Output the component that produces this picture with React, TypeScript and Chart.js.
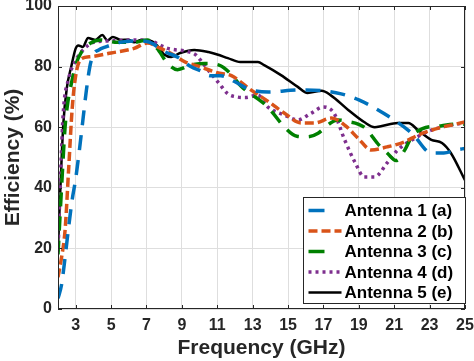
import React, { useEffect, useRef } from "react";
import { Chart, registerables } from "chart.js";

Chart.register(...registerables);

// ---- Data ----
const labels = ["Antenna 1 (a)", "Antenna 2 (b)", "Antenna 3 (c)", "Antenna 4 (d)", "Antenna 5 (e)"];
const xTicks = [3, 5, 7, 9, 11, 13, 15, 17, 19, 21, 23, 25];
const yTicks = [0, 20, 40, 60, 80, 100];

const ant1Freq = [2.0, 2.2, 2.4, 2.6, 2.8, 3.0, 3.2, 3.4, 3.6, 3.8, 4.0, 4.3, 4.7, 5.5, 6.5, 7.2, 8.0, 8.8, 9.5, 10.1, 10.6, 11.2, 12.0, 12.8, 13.9, 15.6, 17.0, 18.0, 19.0, 20.4, 22.0, 23.1, 23.8, 24.5, 25.0];
const ant1Eff = [3.5, 8, 17, 27, 36, 43, 52, 62, 72, 80, 84, 85.5, 86.5, 88, 88.5, 88, 85, 83, 80, 78.5, 77, 77, 75, 72.5, 71.6, 72.3, 72, 71, 69, 64.6, 58, 51.5, 51.5, 52.5, 53];

const ant2Freq = [2.0, 2.2, 2.4, 2.6, 2.8, 3.0, 3.3, 3.85, 5.0, 6.3, 7.05, 7.8, 8.5, 9.2, 10.0, 11.0, 11.8, 12.9, 14.0, 14.8, 15.75, 16.5, 17.45, 18.2, 18.95, 19.7, 20.6, 21.55, 22.35, 23.5, 25.0];
const ant2Eff = [10.5, 17, 26, 46, 66, 77, 82.5, 83.3, 84.5, 86, 87.8, 86, 84, 81.5, 80, 78, 77, 72.3, 68, 64.6, 61.4, 61.4, 63, 60.7, 56.4, 52.5, 53.5, 55.1, 57.4, 59.7, 61.7];

const ant3Freq = [2.0, 2.2, 2.4, 2.55, 2.8, 3.0, 3.3, 3.85, 4.4, 5.35, 6.3, 7.05, 7.6, 8.2, 8.75, 9.5, 10.3, 11.1, 11.7, 12.35, 13.6, 14.1, 14.8, 15.5, 16.1, 16.7, 17.3, 17.8, 18.3, 19.3, 20.15, 20.6, 21.1, 21.6, 22.0, 22.6, 23.7, 24.6, 25.0];
const ant3Eff = [18, 40, 60, 68, 75.6, 80.5, 84.5, 87.8, 88.8, 88, 88, 88.8, 86, 81, 79, 80.5, 81, 80.5, 78, 73.5, 68, 65, 60, 57, 56.8, 58, 61, 62.4, 62, 60, 54, 51.5, 49, 52.5, 57, 59.5, 60.5, 61, 61];

const ant4Freq = [2.0, 2.15, 2.3, 2.6, 3.0, 3.5, 4.0, 5.0, 6.5, 7.2, 8.2, 9.3, 9.8, 10.2, 10.6, 11.1, 11.6, 12.1, 12.6, 13.3, 13.85, 14.8, 15.55, 16.3, 17.0, 17.6, 18.2, 18.8, 19.3, 19.9, 20.6, 21.2, 22.0, 23.1, 24.2, 25.0];
const ant4Eff = [19, 45, 65, 76, 82, 86, 88, 88.5, 88.8, 88.5, 86, 85, 83.8, 81, 78, 74.5, 71, 70, 69.8, 70.6, 66.7, 64, 62.4, 64.6, 66.7, 64.6, 55.8, 48.2, 43.6, 43.6, 48.2, 52.5, 55.8, 59, 60.7, 61.4];

const ant5Freq = [2.0, 2.15, 2.3, 2.5, 2.75, 3.0, 3.15, 3.4, 3.7, 4.1, 4.5, 4.8, 5.1, 5.55, 6.0, 6.3, 6.7, 7.25, 7.6, 8.0, 8.4, 8.9, 9.7, 10.5, 11.0, 11.6, 12.3, 13.3, 13.65, 14.6, 15.55, 16.1, 16.9, 17.4, 18.4, 19.3, 19.9, 20.3, 21.2, 21.8, 22.35, 23.1, 23.7, 24.2, 25.0];
const ant5Eff = [20, 42, 61, 73, 80, 86, 87, 86.5, 89.4, 88.8, 90.4, 88.6, 89.8, 88.8, 88.9, 88, 88.8, 88.5, 87, 84, 83.2, 84.5, 85.5, 84.8, 84, 82.8, 81.5, 81.5, 80.5, 77.2, 73.3, 71.3, 72, 70.6, 65.7, 61.7, 60, 60.4, 61.4, 61.4, 59, 55.8, 54.8, 51.5, 42.5];

const toPts = (fs: number[], es: number[]) => fs.map((f, i) => ({ x: f, y: es[i] }));

const FONT = "'Liberation Sans', Arial, sans-serif";
const AXIS_COLOR = "#262626";

const styles = [
  { color: "#0072BD", dash: [15, 10], width: 3.5, legendDash: [16, 30] },
  { color: "#D95319", dash: [9, 4], width: 3.5, legendDash: [9, 4] },
  { color: "#008000", dash: [14, 10], width: 3.5, legendDash: [16, 30] },
  { color: "#7E2F8E", dash: [3, 4], width: 3.5, legendDash: [3, 4] },
  { color: "#000000", dash: [] as number[], width: 2.5, legendDash: [] as number[] },
];

const framePlugin = {
  id: "frame",
  afterDatasetsDraw(chart: any) {
    const { ctx, chartArea: ca, scales } = chart;
    ctx.save();
    // box
    ctx.strokeStyle = AXIS_COLOR;
    ctx.lineWidth = 1;
    ctx.setLineDash([]);
    ctx.strokeRect(ca.left + 0.5, ca.top + 0.5, ca.right - ca.left - 1, ca.bottom - ca.top - 1);
    // inward ticks
    const tl = 4;
    ctx.beginPath();
    xTicks.forEach((v) => {
      const px = Math.round(scales.x.getPixelForValue(v)) + 0.5;
      ctx.moveTo(px, ca.bottom);
      ctx.lineTo(px, ca.bottom - tl);
      ctx.moveTo(px, ca.top);
      ctx.lineTo(px, ca.top + tl);
    });
    yTicks.forEach((v) => {
      const py = Math.round(scales.y.getPixelForValue(v)) + 0.5;
      ctx.moveTo(ca.left, py);
      ctx.lineTo(ca.left + tl, py);
      ctx.moveTo(ca.right, py);
      ctx.lineTo(ca.right - tl, py);
    });
    ctx.stroke();

    // legend
    const w = 162;
    const h = 106;
    const lx = Math.round(ca.right) - w + 0.5;
    const ly = Math.round(ca.bottom) - 112 + 0.5;
    ctx.fillStyle = "#ffffff";
    ctx.fillRect(lx, ly, w, h);
    ctx.strokeStyle = AXIS_COLOR;
    ctx.lineWidth = 1;
    ctx.strokeRect(lx, ly, w, h);
    ctx.font = `bold 17px ${FONT}`;
    ctx.textBaseline = "middle";
    ctx.textAlign = "left";
    labels.forEach((lab, i) => {
      const y = ly + 13 + i * 20.5;
      const st = styles[i];
      ctx.beginPath();
      ctx.strokeStyle = st.color;
      ctx.lineWidth = st.width;
      ctx.setLineDash(st.legendDash);
      ctx.moveTo(lx + 5, y);
      ctx.lineTo(lx + 38, y);
      ctx.stroke();
      ctx.setLineDash([]);
      ctx.fillStyle = "#000000";
      ctx.fillText(lab, lx + 41, y + 1);
    });
    ctx.restore();
  },
};

const zeroPad = (s: any) => {
  s.paddingTop = 0;
  s.paddingBottom = 0;
  s.paddingLeft = 0;
  s.paddingRight = 0;
};

export default function App() {
  const canvasRef = useRef<HTMLCanvasElement | null>(null);

  useEffect(() => {
    document.body.style.margin = "0";
    const canvas = canvasRef.current;
    if (!canvas) return;
    const series = [
      toPts(ant1Freq, ant1Eff),
      toPts(ant2Freq, ant2Eff),
      toPts(ant3Freq, ant3Eff),
      toPts(ant4Freq, ant4Eff),
      toPts(ant5Freq, ant5Eff),
    ];
    const chart = new Chart(canvas, {
      type: "line",
      data: {
        datasets: series.map((d, i) => ({
          label: labels[i],
          data: d,
          borderColor: styles[i].color,
          backgroundColor: styles[i].color,
          borderWidth: styles[i].width,
          borderDash: styles[i].dash,
          pointRadius: 0,
          cubicInterpolationMode: "monotone" as const,
          borderCapStyle: "butt" as const,
          fill: false,
        })),
      },
      options: {
        animation: false,
        responsive: false,
        maintainAspectRatio: false,
        layout: { padding: { top: 6, right: 9, left: 0, bottom: 0 } },
        plugins: { legend: { display: false }, tooltip: { enabled: false } },
        scales: {
          x: {
            type: "linear",
            min: 2,
            max: 25,
            afterBuildTicks: (s: any) => {
              s.ticks = xTicks.map((v) => ({ value: v }));
            },
            afterFit: (s: any) => {
              s.height = 52;
              zeroPad(s);
            },
            grid: { color: "#dedede", drawTicks: false, lineWidth: 1 },
            border: { display: false },
            ticks: {
              color: AXIS_COLOR,
              font: { family: FONT, size: 16, weight: "bold" },
              padding: 7,
              maxRotation: 0,
              autoSkip: false,
            },
            title: {
              display: true,
              text: "Frequency (GHz)",
              color: AXIS_COLOR,
              font: { family: FONT, size: 21, weight: "bold" },
              padding: { top: 0, bottom: 0 },
            },
          },
          y: {
            type: "linear",
            min: 0,
            max: 100,
            afterBuildTicks: (s: any) => {
              s.ticks = yTicks.map((v) => ({ value: v }));
            },
            afterFit: (s: any) => {
              s.width = 58;
              zeroPad(s);
            },
            grid: { color: "#dedede", drawTicks: false, lineWidth: 1 },
            border: { display: false },
            ticks: {
              color: AXIS_COLOR,
              font: { family: FONT, size: 16, weight: "bold" },
              padding: 6,
            },
            title: {
              display: true,
              text: "Efficiency (%)",
              color: AXIS_COLOR,
              font: { family: FONT, size: 21, weight: "bold" },
              padding: { top: 1, bottom: 0 },
            },
          },
        },
      },
      plugins: [framePlugin],
    });
    return () => chart.destroy();
  }, []);

  return (
    <div style={{ width: 474, height: 361 }}>
      <canvas ref={canvasRef} width={474} height={361} style={{ display: "block" }} />
    </div>
  );
}
